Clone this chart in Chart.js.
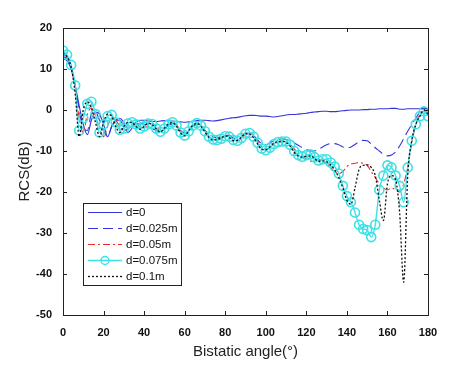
<!DOCTYPE html>
<html>
<head>
<meta charset="utf-8">
<script src="https://cdn.jsdelivr.net/npm/chart.js@4.4.0/dist/chart.umd.min.js"></script>
<style>
  html, body { margin: 0; padding: 0; background: #fff; }
</style>
</head>
<body>
<canvas id="rcsChart" width="474" height="365"></canvas>
<script>
// bistatic angle (deg)
const angles = [0,2,4,6,8,10,12,14,16,18,
  20,22,24,26,28,30,32,34,36,38,
  40,42,44,46,48,50,52,54,56,58,
  60,62,64,66,68,70,72,74,76,78,
  80,82,84,86,88,90,92,94,96,98,
  100,102,104,106,108,110,112,114,116,118,
  120,122,124,126,128,130,132,134,136,138,
  140,142,144,146,148,150,152,154,156,158,
  160,162,164,166,168,170,172,174,176,178,
  180];

// RCS (dB) for each gap d
const rcsD0 = [12.5,12,10,6,1,-3.5,-6,-2.5,-0.5,-1,
  -3.5,-6.5,-4,-2.5,-2,-3,-4.5,-4,-3,-2.5,
  -2.5,-2.7,-2.8,-2.8,-2.7,-2.6,-2.6,-2.7,-2.8,-2.9,
  -3,-2.9,-2.8,-2.6,-2.5,-2.5,-2.6,-2.7,-2.6,-2.4,
  -2.2,-2,-1.9,-1.8,-1.6,-1.4,-1.3,-1.3,-1.4,-1.5,
  -1.5,-1.6,-1.7,-1.6,-1.4,-1.2,-1.1,-1.1,-1,-0.9,
  -0.8,-0.6,-0.5,-0.4,-0.3,-0.3,-0.4,-0.4,-0.3,-0.2,
  -0.1,0,0,0,0.1,0.1,0.2,0.2,0.3,0.3,
  0.3,0.4,0.4,0.2,0.2,0.3,0.3,0.3,0.3,0.5,
  0.3];

const rcsD025 = [13,12.5,10.5,6,0,-4.5,-5,-1,-0.5,-2.5,
  -5,-6.5,-4,-2.5,-2.5,-4,-5.5,-4.5,-3.5,-3.3,
  -3.5,-4,-4.5,-5,-5.2,-4.6,-3.8,-3.5,-4,-5,
  -5.6,-5,-4,-3.6,-4,-5,-6,-6.6,-6.8,-6.6,
  -6.2,-6.2,-6.8,-7,-6.6,-6,-5.8,-6.3,-7.3,-8.3,
  -8.5,-8,-7.5,-7.2,-7,-7.2,-7.5,-8,-8.6,-9.2,
  -9.6,-10,-10,-9.6,-9,-8.5,-8.2,-8.2,-8.5,-9,
  -9.2,-9,-8.4,-7.7,-7.4,-7.5,-8.3,-9.2,-10,-10.8,
  -11.2,-11,-10.2,-8.8,-7,-5.2,-3.5,-2,-0.5,0.5,
  0];

const rcsD05 = [13.5,12.8,10.5,5.5,-2,-5.5,-1,0.5,-1.5,-4.5,
  -6.5,-4,-2,-2.5,-4,-5,-4.5,-3.5,-3.3,-4,
  -4.5,-3.8,-3.3,-4,-5,-4.8,-3.6,-3,-3.5,-5.2,
  -6,-5.4,-4,-3.2,-3.6,-5,-6.3,-7,-7.2,-7,
  -6.5,-6.4,-7.1,-7.5,-7,-6,-5.6,-6.2,-7.6,-9,
  -9.6,-9.3,-8.5,-8,-7.8,-7.8,-8.4,-9.5,-10.5,-11.3,
  -12,-12.5,-12.3,-12,-12.5,-13,-14,-15,-15.5,-15,
  -13.8,-13.2,-13,-12.8,-13,-13.5,-15,-16.5,-18,-19,
  -19.5,-19,-19.5,-20,-18,-14,-8,-3.5,-1,0.2,
  -1];

const rcsD075 = [14.5,13.5,11,6,-5,-2,1.5,2,-1,-5.5,
  -3.5,-1.5,-1.2,-3,-4.8,-4.5,-3.3,-3,-3.5,-4.5,
  -4,-3.3,-3.4,-4.5,-5.3,-4.5,-3.5,-3,-3.8,-5.5,
  -6.2,-5.2,-3.8,-3.2,-3.8,-5.2,-6.5,-7.2,-7.3,-7,
  -6.4,-6.5,-7.3,-7.5,-6.8,-5.8,-5.6,-6.5,-8,-9.4,
  -9.8,-9.2,-8.3,-7.8,-7.7,-7.7,-8.5,-10,-11,-11.4,
  -11,-10.8,-11.5,-12.3,-12,-12,-12.8,-13.8,-15.5,-18.5,
  -21,-22.5,-25,-28,-29,-29.3,-31,-28,-19.5,-16,
  -13.5,-14,-16,-18.5,-22.5,-14,-7.5,-3.5,-1.5,-0.3,
  -1.5];

const rcsD1 = [14,13,10.5,4,-6.5,0,2,0.5,-3,-6.5,
  -3,-1,-1.5,-4,-5.5,-4,-3,-3,-4,-4.7,
  -4,-3.2,-3.6,-4.6,-5.4,-4.4,-3.4,-3.1,-4,-5.6,
  -6.3,-5,-3.7,-3.3,-4,-5.4,-6.7,-7.3,-7.2,-6.8,
  -6.3,-6.7,-7.5,-7.4,-6.6,-5.7,-5.8,-6.8,-8.3,-9.6,
  -9.7,-9,-8.1,-7.7,-7.6,-7.9,-8.8,-10.3,-11.2,-11.5,
  -11.3,-11.2,-11.8,-12.5,-12.4,-12.6,-13.4,-14.6,-16.5,-19,
  -22,-23,-19,-14.5,-13.5,-13.4,-14,-16,-22,-27,
  -18,-16,-17,-25,-42,-16,-7.5,-3.5,-1.5,0,
  -1];

const seriesNames = ['d=0', 'd=0.025m', 'd=0.05m', 'd=0.075m', 'd=0.1m'];
const xTicks = [0, 20, 40, 60, 80, 100, 120, 140, 160, 180];
const yTicks = [-50, -40, -30, -20, -10, 0, 10, 20];

const FONT = '"Liberation Sans", Arial, sans-serif';

function toPoints(vals) {
  return angles.map(function (a, i) { return { x: a, y: vals[i] }; });
}

const datasets = [
  { label: seriesNames[0], data: toPoints(rcsD0), borderColor: '#3535dc', borderWidth: 1.1, pointRadius: 0, order: 5 },
  { label: seriesNames[1], data: toPoints(rcsD025), borderColor: '#3535dc', borderWidth: 1.1, borderDash: [10, 5], pointRadius: 0, order: 4 },
  { label: seriesNames[2], data: toPoints(rcsD05), borderColor: '#e82a2a', borderWidth: 1.1, borderDash: [7, 3, 2, 3], pointRadius: 0, order: 3 },
  { label: seriesNames[3], data: toPoints(rcsD075), borderColor: '#3ce0e6', borderWidth: 1.4, pointRadius: 4.5,
    pointStyle: 'circle', pointBorderColor: '#3ce0e6', pointBackgroundColor: 'rgba(0,0,0,0)', pointBorderWidth: 1.6, order: 2 },
  { label: seriesNames[4], data: toPoints(rcsD1), borderColor: '#111', borderWidth: 1.3, borderDash: [2, 2], pointRadius: 0, order: 1 }
];

// box round the plot, inward ticks on all four sides, legend inside
const framePlugin = {
  id: 'frame',
  afterDatasetsDraw: function (chart) {
    const ctx = chart.ctx;
    const a = chart.chartArea;
    const xs = chart.scales.x, ys = chart.scales.y;
    ctx.save();
    ctx.strokeStyle = '#222';
    ctx.lineWidth = 1;
    ctx.strokeRect(a.left + 0.5, a.top + 0.5, a.right - a.left, a.bottom - a.top);
    ctx.beginPath();
    xTicks.forEach(function (t) {
      const px = Math.round(xs.getPixelForValue(t)) + 0.5;
      ctx.moveTo(px, a.bottom); ctx.lineTo(px, a.bottom - 4);
      ctx.moveTo(px, a.top); ctx.lineTo(px, a.top + 4);
    });
    yTicks.forEach(function (t) {
      const py = Math.round(ys.getPixelForValue(t)) + 0.5;
      ctx.moveTo(a.left, py); ctx.lineTo(a.left + 4, py);
      ctx.moveTo(a.right, py); ctx.lineTo(a.right - 4, py);
    });
    ctx.stroke();
    ctx.restore();
  },
  afterDraw: function (chart) {
    const ctx = chart.ctx;
    const bx = 83, by = 203, bw = 98, bh = 82;
    ctx.save();
    ctx.fillStyle = '#fff';
    ctx.fillRect(bx, by, bw, bh);
    ctx.strokeStyle = '#222';
    ctx.lineWidth = 1;
    ctx.strokeRect(bx + 0.5, by + 0.5, bw, bh);
    chart.data.datasets.forEach(function (ds, i) {
      const y = 212.5 + i * 16;
      ctx.strokeStyle = ds.borderColor;
      ctx.lineWidth = ds.borderWidth;
      ctx.setLineDash(ds.borderDash || []);
      ctx.beginPath();
      ctx.moveTo(88, y); ctx.lineTo(122, y);
      ctx.stroke();
      ctx.setLineDash([]);
      if (ds.pointRadius > 0) {
        ctx.beginPath();
        ctx.arc(105, y, 4, 0, Math.PI * 2);
        ctx.stroke();
      }
      ctx.fillStyle = '#111';
      ctx.font = '11.5px ' + FONT;
      ctx.textBaseline = 'middle';
      ctx.fillText(ds.label, 126, y);
    });
    ctx.restore();
  }
};

const config = {
  type: 'line',
  data: { datasets: datasets },
  options: {
    responsive: false,
    animation: false,
    devicePixelRatio: 1,
    layout: { padding: { left: 0, right: 46, top: 28, bottom: 0 } },
    elements: { line: { cubicInterpolationMode: 'monotone' } },
    plugins: { legend: { display: false }, tooltip: { enabled: false } },
    scales: {
      x: {
        type: 'linear', min: 0, max: 180,
        afterFit: function (s) { s.height = 50; },
        afterBuildTicks: function (s) { s.ticks = xTicks.map(function (v) { return { value: v }; }); },
        grid: { display: false },
        border: { display: false },
        ticks: { color: '#111', font: { family: FONT, size: 11, weight: 'bold' }, padding: 3, maxRotation: 0 },
        title: { display: true, text: 'Bistatic angle(°)', color: '#222', font: { family: FONT, size: 15 }, padding: { top: 0, bottom: 4 } }
      },
      y: {
        min: -50, max: 20,
        afterFit: function (s) { s.width = 63; },
        afterBuildTicks: function (s) { s.ticks = yTicks.map(function (v) { return { value: v }; }); },
        grid: { display: false },
        border: { display: false },
        ticks: { color: '#111', font: { family: FONT, size: 11, weight: 'bold' }, padding: 3 },
        title: { display: true, text: 'RCS(dB)', color: '#222', font: { family: FONT, size: 15 }, padding: { top: 16, bottom: 0 } }
      }
    }
  },
  plugins: [framePlugin]
};

const rcsChart = new Chart(document.getElementById('rcsChart'), config);
</script>
</body>
</html>
